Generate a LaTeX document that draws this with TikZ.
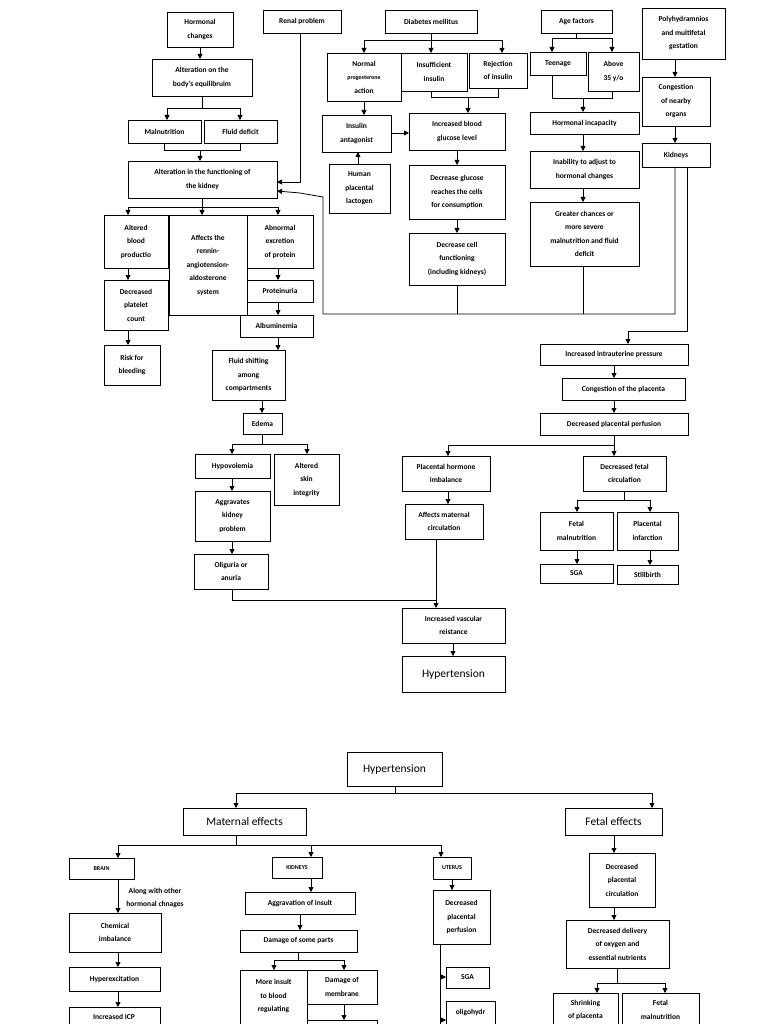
\documentclass[tikz,border=0pt]{standalone}
\usepackage{fontspec}
\setmainfont{Carlito}
\usetikzlibrary{fit,arrows.meta}
\tikzset{
 box/.style={draw,line width=0.8pt,inner sep=0pt,align=center,font=\fontsize{7.5}{13.5}\selectfont\bfseries},
 big/.style={font=\fontsize{11.5}{14}\selectfont},
 ln/.style={line width=0.8pt},
 ar/.style={line width=0.8pt,-{Triangle[length=5pt,width=5pt]}}
}
\newcommand\bx[6][]{\path (#3,#4) coordinate (#2-nw) (#5,#6) coordinate (#2-se);\node[box,#1,fit=(#2-nw)(#2-se)] (#2) {};}
\newcommand\bt[7][]{\bx[#1]{#2}{#3}{#4}{#5}{#6}\node[box,draw=none,#1] at (#2.center) {#7};}
\begin{document}
\begin{tikzpicture}[x=1pt,y=-1pt]
\useasboundingbox (0,0) rectangle (768,1024);
\clip (0,0) rectangle (768,1024);
\fill[white] (0,0) rectangle (768,1024);
% top section
\bt{hc}{167}{12}{233}{47}{Hormonal\\changes}
\bt{renal}{263}{10}{341}{33}{Renal problem}
\bt{dm}{385}{10}{477}{33}{Diabetes mellitus}
\bt{age}{541}{10}{612}{33}{Age factors}
\bt{poly}{642}{8}{725}{59}{Polyhydramnios\\and multifetal\\gestation}
\bt{alt}{152}{59}{252}{96}{Alteration on the\\body's equilibruim}
\bt{mal}{128}{120}{201}{143}{Malnutrition}
\bt{fd}{204}{120}{277}{143}{Fluid deficit}
\bt{akf}{128}{161}{277}{198}{Alteration in the functioning of\\the kidney}
\bt{npa}{327}{53}{401}{101}{Normal\\{\fontsize{6}{13.5}\selectfont progesterone}\\action}
\bt{ins}{401}{53}{467}{91}{Insufficient\\insulin}
\bt{rej}{469}{53}{527}{88}{Rejection\\of insulin}
\bt{ia}{322}{115}{391}{152}{Insulin\\antagonist}
\bt{hpl}{329}{164}{390}{213}{Human\\placental\\lactogen}
\bt{ibg}{409}{113}{505}{150}{Increased blood\\glucose level}
\bt{dg}{409}{165}{505}{219}{Decrease glucose\\reaches the cells\\for consumption}
\bt{dcf}{409}{233}{505}{285}{Decrease cell\\functioning\\(including kidneys)}
\bt{teen}{530}{52}{586}{75}{Teenage}
\bt{above}{588}{52}{639}{91}{Above\\35 y/o}
\bt{hi}{530}{112}{639}{134}{Hormonal incapacity}
\bt{inab}{530}{151}{639}{188}{Inability to adjust to\\hormonal changes}
\bt{gc}{530}{202}{639}{266}{Greater chances or\\more severe\\malnutrition and fluid\\deficit}
\bt{cong}{642}{77}{710}{126}{Congestion\\of nearby\\organs}
\bt{kid}{642}{143}{710}{167}{Kidneys}
\bt{abp}{104}{215}{168}{268}{Altered\\blood\\productio}
\bt{ras}{169}{215}{247}{315}{Affects the\\rennin-\\angiotension-\\aldosterone\\system}
\bt{aep}{247}{215}{313}{268}{Abnormal\\excretion\\of protein}
\bt{dpc}{104}{280}{168}{330}{Decreased\\platelet\\count}
\bt{prot}{247}{280}{313}{302}{Proteinuria}
\bt{alb}{240}{315}{313}{337}{Albuminemia}
\bt{risk}{104}{345}{160}{385}{Risk for\\bleeding}
\bt{fs}{212}{350}{285}{400}{Fluid shifting\\among\\compartments}
\bt{edema}{243}{413}{282}{434}{Edema}
\bt{hypo}{195}{454}{270}{478}{Hypovolemia}
\bt{ask}{274}{454}{339}{505}{Altered\\skin\\integrity}
\bt{agg}{195}{491}{270}{541}{Aggravates\\kidney\\problem}
\bt{olig}{194}{554}{268}{589}{Oliguria or\\anuria}
\bt{iip}{540}{344}{688}{365}{Increased intrauterine pressure}
\bt{cop}{562}{378}{685}{400}{Congestion of the placenta}
\bt{dpp}{540}{413}{688}{435}{Decreased placental perfusion}
\bt{phi}{402}{456}{490}{491}{Placental hormone\\imbalance}
\bt{dfc}{583}{456}{666}{491}{Decreased fetal\\circulation}
\bt{amc}{405}{504}{483}{539}{Affects maternal\\circulation}
\bt{fm}{540}{512}{613}{550}{Fetal\\malnutrition}
\bt{pi}{617}{512}{678}{550}{Placental\\infarction}
\bt{sga}{540}{564}{613}{583}{SGA}
\bt{still}{617}{565}{678}{584}{Stillbirth}
\bt{ivr}{402}{608}{505}{643}{Increased vascular\\reistance}
\bt[big]{hypa}{402}{656}{505}{692}{\mdseries Hypertension}
% top connectors
\draw[ar] (200,47) -- (200,59);
\draw[ln] (202,96) -- (202,108); \draw[ln] (167,108) -- (240,108);
\draw[ar] (167,108) -- (167,120); \draw[ar] (240,108) -- (240,120);
\draw[ln] (164,143) -- (164,150) -- (240,150) -- (240,143);
\draw[ar] (200,150) -- (200,161);
\draw[ar] (300,33) -- (300,182) -- (277,182);
\draw[ar] (675,167) -- (675,314) -- (323,314) -- (323,197) -- (300,193) -- (277,191);
\draw[ln] (457,285) -- (457,314);
\draw[ln] (583,266) -- (583,314);
\draw[ar] (687,167) -- (687,331) -- (628,331) -- (628,344);
\draw[ln] (431,33) -- (431,40); \draw[ln] (364,40) -- (502,40);
\draw[ar] (364,40) -- (364,53); \draw[ar] (431,40) -- (431,53); \draw[ar] (502,40) -- (502,53);
\draw[ln] (431,91) -- (431,97) -- (498,97) -- (498,88);
\draw[ar] (468,97) -- (468,113);
\draw[ar] (364,101) -- (364,115);
\draw[ar] (358,164) -- (358,152);
\draw[ar] (391,133) -- (409,133);
\draw[ar] (457,150) -- (457,165);
\draw[ar] (457,219) -- (457,233);
\draw[ln] (576,33) -- (576,38); \draw[ln] (552,38) -- (612,38);
\draw[ar] (552,38) -- (552,52); \draw[ar] (612,38) -- (612,52);
\draw[ln] (552,75) -- (552,98) -- (612,98) -- (612,91);
\draw[ar] (583,98) -- (583,112);
\draw[ar] (583,134) -- (583,151);
\draw[ar] (583,188) -- (583,202);
\draw[ar] (675,59) -- (675,77);
\draw[ar] (675,126) -- (675,143);
\draw[ln] (202,198) -- (202,207); \draw[ln] (128,207) -- (278,207);
\draw[ar] (128,207) -- (128,215); \draw[ar] (202,207) -- (202,215); \draw[ar] (278,207) -- (278,215);
\draw[ar] (128,268) -- (128,280);
\draw[ar] (128,330) -- (128,345);
\draw[ar] (278,268) -- (278,280);
\draw[ar] (278,302) -- (278,315);
\draw[ar] (278,337) -- (278,350);
\draw[ar] (262,400) -- (262,413);
\draw[ln] (262,434) -- (262,444); \draw[ln] (232,444) -- (307,444);
\draw[ar] (232,444) -- (232,454); \draw[ar] (307,444) -- (307,454);
\draw[ar] (232,478) -- (232,491);
\draw[ar] (232,541) -- (232,554);
\draw[ar] (232,589) -- (232,600) -- (436,600) -- (436,608);
\draw[ln] (436,539) -- (436,600);
\draw[ar] (614,365) -- (614,378);
\draw[ar] (614,400) -- (614,413);
\draw[ln] (614,435) -- (614,445); \draw[ln] (448,445) -- (614,445);
\draw[ar] (448,445) -- (448,456); \draw[ar] (614,445) -- (614,456);
\draw[ar] (448,491) -- (448,504);
\draw[ln] (624,491) -- (624,500); \draw[ln] (577,500) -- (650,500);
\draw[ar] (577,500) -- (577,512); \draw[ar] (650,500) -- (650,512);
\draw[ar] (577,550) -- (577,564);
\draw[ar] (650,550) -- (650,565);
\draw[ar] (453,643) -- (453,656);
% bottom section
\bt[big]{hypb}{347}{752}{442}{786}{\mdseries Hypertension}
\bt[big]{me}{183}{808}{306}{835}{\mdseries Maternal effects}
\bt[big]{fe}{565}{808}{662}{835}{\mdseries Fetal effects}
\draw[ln] (395,786) -- (395,793); \draw[ln] (236,793) -- (652,793);
\draw[ar] (236,793) -- (236,808); \draw[ar] (652,793) -- (652,808);
\bt[font=\fontsize{6}{12}\selectfont\bfseries]{brain}{69}{858}{134}{879}{BRAIN}
\bt[font=\fontsize{6}{12}\selectfont\bfseries]{kid2}{272}{857}{322}{878}{KIDNEYS}
\bt[font=\fontsize{6}{12}\selectfont\bfseries]{ut}{433}{857}{471}{879}{UTERUS}
\draw[ln] (236,835) -- (236,845); \draw[ln] (118,845) -- (441,845);
\draw[ar] (118,845) -- (118,858); \draw[ar] (311,845) -- (311,857); \draw[ar] (441,845) -- (441,857);
\bt{chem}{69}{913}{161}{952}{Chemical\\imbalance}
\bt{hyper}{69}{967}{160}{991}{Hyperexcitation}
\bx{icp}{69}{1007}{160}{1040}
\node[box,draw=none] at (114,1017) {Increased ICP};
\draw[ar] (118,879) -- (118,913);
\node[box,draw=none] at (155,898) {Along with other\\hormonal chnages};
\draw[ar] (118,952) -- (118,967);
\draw[ar] (118,991) -- (118,1007);
\bt{aoi}{245}{892}{355}{914}{Aggravation of insult}
\bt{dsp}{240}{930}{357}{952}{Damage of some parts}
\bx{mi}{240}{970}{307}{1060}
\node[box,draw=none] at (273.5,996) {More insult\\to blood\\regulating};
\bt{dom}{307}{970}{377}{1004}{Damage of\\membrane}
\bx{dom2}{307}{1020}{377}{1050}
\draw[ar] (311,878) -- (311,892);
\draw[ar] (300,914) -- (300,930);
\draw[ln] (298,952) -- (298,960); \draw[ln] (274,960) -- (344,960);
\draw[ar] (274,960) -- (274,970); \draw[ar] (344,960) -- (344,970);
\draw[ar] (344,1004) -- (344,1020);
\bt{dpp2}{433}{890}{490}{944}{Decreased\\placental\\perfusion}
\bt{sga2}{446}{967}{489}{988}{SGA}
\bx{oli}{446}{1001}{495}{1060}
\node[box,draw=none] at (470.5,1012) {oligohydr};
\draw[ar] (452,879) -- (452,890);
\draw[ln] (440,944) -- (440,1024);
\draw[ar] (440,977) -- (446,977);
\draw[ar] (440,1020) -- (446,1020);
\bt{dpc2}{589}{853}{655}{907}{Decreased\\placental\\circulation}
\bt{ddo}{566}{920}{669}{968}{Decreased delivery\\of oxygen and\\essential nutrients}
\bx{shr}{553}{993}{618}{1040}
\node[box,draw=none] at (585.5,1010) {Shrinking\\of placenta};
\bx{fm2}{622}{993}{699}{1040}
\node[box,draw=none] at (660.5,1010) {Fetal\\malnutrition};
\draw[ar] (614,835) -- (614,853);
\draw[ar] (614,907) -- (614,920);
\draw[ln] (617,968) -- (617,983); \draw[ln] (597,983) -- (665,983);
\draw[ar] (597,983) -- (597,993); \draw[ar] (665,983) -- (665,993);
\end{tikzpicture}
\end{document}
